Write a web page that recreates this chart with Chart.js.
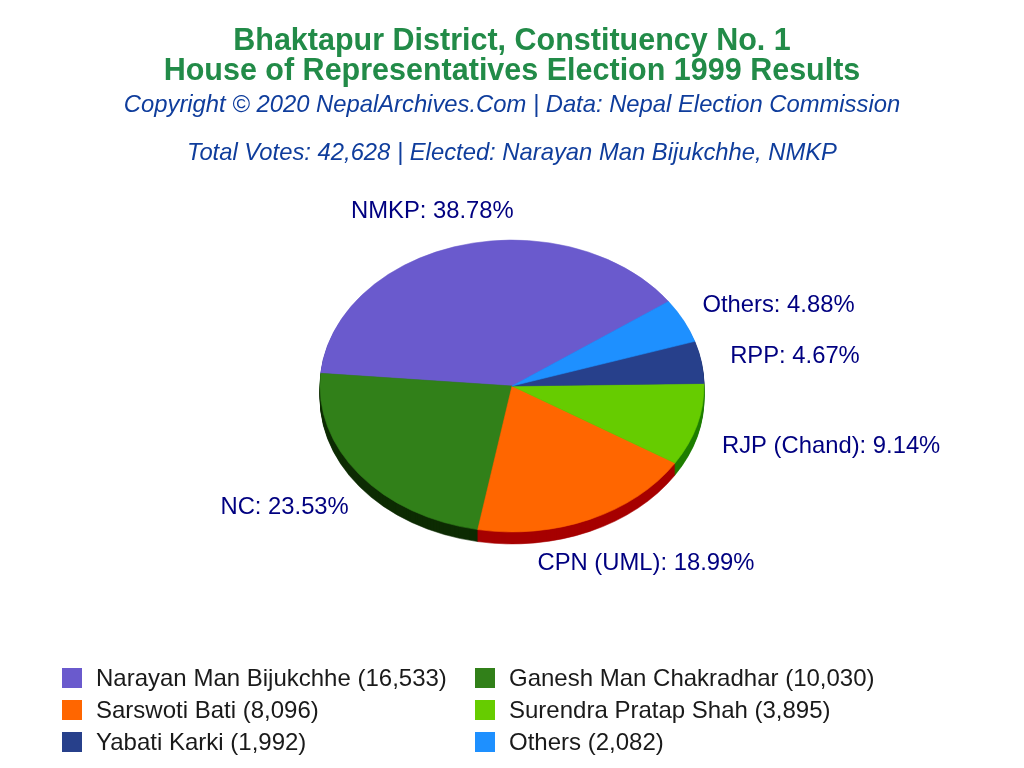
<!DOCTYPE html>
<html>
<head>
<meta charset="utf-8">
<script src="https://cdn.jsdelivr.net/npm/chart.js@4.4.1/dist/chart.umd.min.js"></script>
<style>
html,body{margin:0;padding:0;background:#ffffff;}
canvas{display:block;}
</style>
</head>
<body>
<canvas id="c" width="1024" height="768"></canvas>
<script>
// ---- data ----
const candidates = ['Narayan Man Bijukchhe', 'Ganesh Man Chakradhar', 'Sarswoti Bati', 'Surendra Pratap Shah', 'Yabati Karki', 'Others'];
const parties = ['NMKP', 'NC', 'CPN (UML)', 'RJP (Chand)', 'RPP', 'Others'];
const votes = [16533, 10030, 8096, 3895, 1992, 2082];
const titleLines = ['Bhaktapur District, Constituency No. 1', 'House of Representatives Election 1999 Results'];
const copyrightLine = 'Copyright \u00A9 2020 NepalArchives.Com | Data: Nepal Election Commission';
const electedLine = 'Elected: Narayan Man Bijukchhe, NMKP';

// ---- styles ----
const sliceColors = ['#6A5ACD', '#318019', '#FF6600', '#66CC00', '#27408B', '#1E90FF'];
const sideColors = ['#3B3180', '#0D2C03', '#A60000', '#1E7D00', '#15244F', '#0E4E96'];
const FONT = '"Liberation Sans", Arial, Helvetica, sans-serif';
const TILT = 0.76;
const DEPTH = 12;

const total = votes.reduce((a, b) => a + b, 0);
const subtitleLines = [copyrightLine, 'Total Votes: ' + total.toLocaleString('en-US') + ' | ' + electedLine];
const legendLabels = candidates.map((c, i) => c + ' (' + votes[i].toLocaleString('en-US') + ')');

function arcGeom(arc) {
  return arc.getProps(['x', 'y', 'startAngle', 'endAngle', 'outerRadius'], true);
}

// draws the pie tilted, with a side wall, slices running anticlockwise
const pie3d = {
  id: 'pie3d',
  beforeDatasetsDraw(chart) {
    const ctx = chart.ctx;
    const arcs = chart.getDatasetMeta(0).data;
    const drawSlice = (arc, off, color) => {
      const g = arcGeom(arc);
      ctx.save();
      ctx.translate(g.x, g.y + off);
      ctx.scale(1, TILT);
      ctx.beginPath();
      ctx.moveTo(0, 0);
      ctx.arc(0, 0, g.outerRadius, Math.PI - g.endAngle, Math.PI - g.startAngle);
      ctx.closePath();
      ctx.restore();
      ctx.fillStyle = color;
      ctx.fill();
      ctx.strokeStyle = color;
      ctx.lineWidth = 0.6;
      ctx.stroke();
    };
    for (let k = DEPTH; k >= 1; k--) arcs.forEach((a, i) => drawSlice(a, k, sideColors[i]));
    arcs.forEach((a, i) => drawSlice(a, 0, sliceColors[i]));
    return false;
  },
  afterDraw(chart) {
    const ctx = chart.ctx;
    const arcs = chart.getDatasetMeta(0).data;
    const data = chart.data.datasets[0].data;
    const sum = data.reduce((a, b) => a + b, 0);
    ctx.save();
    ctx.font = '23.8px ' + FONT;
    ctx.fillStyle = '#000080';
    ctx.textBaseline = 'middle';
    ctx.textAlign = 'left';
    arcs.forEach((arc, i) => {
      const g = arcGeom(arc);
      const mid = Math.PI - (g.startAngle + g.endAngle) / 2;
      const c = Math.cos(mid), s = Math.sin(mid);
      const Rx = g.outerRadius + 30;
      const Ry = g.outerRadius * TILT + 35;
      const text = parties[i] + ': ' + (data[i] / sum * 100).toFixed(2) + '%';
      const w = ctx.measureText(text).width;
      const lx = g.x + Rx * c - w * (1 - c) / 2;
      const ly = g.y + Ry * s + (s > 0 ? DEPTH : 0);
      ctx.fillText(text, lx, ly);
    });
    ctx.restore();

    // legend: two columns, row-major
    ctx.save();
    ctx.font = '24px ' + FONT;
    ctx.textBaseline = 'middle';
    ctx.textAlign = 'left';
    const colX = [62, 475];
    legendLabels.forEach((lab, i) => {
      const col = i % 2, row = Math.floor(i / 2);
      const x = colX[col], y = 678 + row * 32;
      ctx.fillStyle = sliceColors[i];
      ctx.fillRect(x, y - 10, 20, 20);
      ctx.fillStyle = '#1a1a1a';
      ctx.fillText(lab, x + 34, y + 1);
    });
    ctx.restore();
  }
};

new Chart(document.getElementById('c'), {
  type: 'pie',
  data: {
    labels: candidates,
    datasets: [{
      data: votes,
      backgroundColor: sliceColors,
      borderWidth: 0,
      hoverOffset: 0,
      radius: 192
    }]
  },
  options: {
    responsive: false,
    animation: false,
    rotation: -54.6,
    layout: { padding: { top: 0, bottom: 190, left: 0, right: 0 } },
    events: [],
    plugins: {
      legend: { display: false },
      tooltip: { enabled: false },
      title: {
        display: true,
        text: titleLines,
        color: '#228B48',
        font: { family: FONT, size: 30.5, weight: 'bold', lineHeight: 30 / 30.5 },
        padding: { top: 27, bottom: 0 }
      },
      subtitle: {
        display: true,
        text: subtitleLines,
        color: '#0F3D9C',
        font: { family: FONT, size: 23.8, style: 'italic', lineHeight: 48 / 23.8 },
        padding: { top: -6, bottom: 17 }
      }
    }
  },
  plugins: [pie3d]
});
</script>
</body>
</html>
